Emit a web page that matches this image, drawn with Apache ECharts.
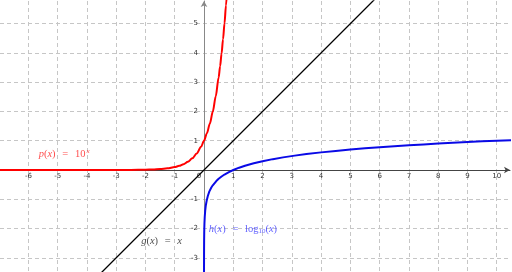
<!DOCTYPE html>
<html><head><meta charset="utf-8">
<script src="https://cdn.jsdelivr.net/npm/echarts@6/dist/echarts.min.js"></script>
<style>html,body{margin:0;padding:0;background:#fff}#c{width:512px;height:272px}</style>
</head><body><div id="c"></div>
<script>
// Sampled points of p(x) = 10^x
var pX = [-7.1, -6, -5, -4, -3, -2.5, -2, -1.75, -1.5, -1.25, -1, -0.85, -0.7, -0.55, -0.4, -0.25, -0.1, 0, 0.1, 0.2, 0.3, 0.4, 0.5, 0.55, 0.6, 0.65, 0.7, 0.75, 0.8];
var pY = [0, 0, 0.00001, 0.0001, 0.001, 0.003, 0.01, 0.018, 0.032, 0.056, 0.1, 0.141, 0.2, 0.282, 0.398, 0.562, 0.794, 1, 1.259, 1.585, 1.995, 2.512, 3.162, 3.548, 3.981, 4.467, 5.012, 5.623, 6.31];
// Sampled points of h(x) = log10(x)
var hX = [0.0003, 0.0005, 0.001, 0.002, 0.004, 0.007, 0.01, 0.015, 0.025, 0.04, 0.06, 0.09, 0.13, 0.18, 0.25, 0.3, 0.35, 0.42, 0.5, 0.6, 0.7, 0.85, 1, 1.2, 1.4, 1.7, 2, 2.35, 2.7, 3.1, 3.5, 4, 4.5, 5, 5.5, 6, 6.5, 7, 7.5, 8, 8.5, 9, 9.5, 10, 10.6];
var hY = [-3.52, -3.30, -3, -2.70, -2.40, -2.15, -2, -1.82, -1.60, -1.40, -1.22, -1.05, -0.89, -0.74, -0.60, -0.523, -0.456, -0.377, -0.301, -0.222, -0.155, -0.071, 0, 0.079, 0.146, 0.230, 0.301, 0.371, 0.431, 0.491, 0.544, 0.602, 0.653, 0.699, 0.740, 0.778, 0.813, 0.845, 0.875, 0.903, 0.929, 0.954, 0.978, 1, 1.025];
// g(x) = x
var gX = [-4, 6.5];
var gY = [-4, 6.5];
// Tick values
var xTicks = [-6, -5, -4, -3, -2, -1, 0, 1, 2, 3, 4, 5, 6, 7, 8, 9, 10];
var yTicks = [-3, -2, -1, 1, 2, 3, 4, 5];
// Visible range
var xViewMin = -6.97, xViewMax = 10.454, yViewMin = -3.485, yViewMax = 5.774;
// Annotation labels (data positions)
var labelNames = ['p', 'g', 'h'];
var labelX = [-4.78, -1.45, 1.33];
var labelY = [0.547, -2.43, -2.02];

function zip(a, b) { return a.map(function (v, i) { return [v, b[i]]; }); }

var serif = 'Liberation Serif';
var richBase = function (color) {
  return {
    i: { fontFamily: serif, fontStyle: 'italic', fontSize: 10.5, color: color },
    n: { fontFamily: serif, fontSize: 10.5, color: color },
    s: { fontFamily: serif, fontStyle: 'italic', fontSize: 7, color: color, verticalAlign: 'top', padding: [0, 0, 0, 1] },
    b: { fontFamily: serif, fontSize: 7, color: color, verticalAlign: 'bottom' }
  };
};
var labelText = {
  p: '{i|p}{n|(}{i|x}{n|)}  {n|=}  {n|10}{s|x}',
  g: '{i|g}{n|(}{i|x}{n|)}  {n|=}  {i|x}',
  h: '{i|h}{n|(}{i|x}{n|)}  {n|=}  {n|log}{b|10}{n|(}{i|x}{n|)}'
};
var labelColor = { p: '#ff2020', g: '#222222', h: '#3a3aff' };

var annData = labelNames.map(function (n, i) {
  return {
    value: [labelX[i], labelY[i]],
    label: { formatter: labelText[n], rich: richBase(labelColor[n]) }
  };
});

var chart = echarts.init(document.getElementById('c'), null, { renderer: 'canvas' });
var gridLine = { show: true, lineStyle: { color: '#c6c6c6', type: [4, 3], width: 1 } };
var hide = { show: false };

chart.setOption({
  animation: false,
  backgroundColor: '#ffffff',
  grid: { left: 0, right: 2, top: 1, bottom: 0, containLabel: false, outerBoundsMode: 'none' },
  xAxis: [
    {
      type: 'value', min: xViewMin, max: xViewMax,
      axisLine: { show: true, onZero: true, lineStyle: { color: '#444', width: 1 }, symbol: ['none', 'arrow'], symbolSize: [5, 6] },
      axisTick: { show: false, customValues: xTicks },
      splitLine: gridLine,
      axisLabel: hide
    },
    {
      type: 'value', min: xViewMin, max: xViewMax, position: 'bottom', offset: 0,
      axisLine: { show: false, onZero: false },
      axisTick: { show: false, customValues: xTicks },
      splitLine: hide,
      axisLabel: {
        customValues: xTicks, margin: 3, fontSize: 7, color: '#333', fontFamily: 'DejaVu Sans',
        formatter: function (v) { return v === 0 ? '{z|0}' : String(v); },
        rich: { z: { fontSize: 7, color: '#333', fontFamily: 'DejaVu Sans', padding: [0, 10, 0, 0] } }
      }
    }
  ],
  yAxis: [
    {
      type: 'value', min: yViewMin, max: yViewMax,
      axisLine: { show: true, onZero: true, lineStyle: { color: '#888', width: 1 }, symbol: ['none', 'arrow'], symbolSize: [5, 6] },
      axisTick: { show: false, customValues: yTicks },
      splitLine: gridLine,
      axisLabel: hide
    },
    {
      type: 'value', min: yViewMin, max: yViewMax, position: 'left', offset: 0,
      axisLine: { show: false, onZero: false },
      axisTick: { show: false, customValues: yTicks },
      splitLine: hide,
      axisLabel: { customValues: yTicks, margin: 6, fontSize: 7, color: '#333', fontFamily: 'DejaVu Sans' }
    }
  ],
  series: [
    {
      type: 'line', xAxisIndex: 0, yAxisIndex: 0, data: zip(gX, gY),
      showSymbol: false, symbol: 'none', lineStyle: { color: '#000000', width: 1.3 }, z: 3
    },
    {
      type: 'line', xAxisIndex: 0, yAxisIndex: 0, data: zip(pX, pY),
      showSymbol: false, symbol: 'none', smooth: 0.3, smoothMonotone: 'x',
      lineStyle: { color: '#ff0000', width: 2 }, z: 4
    },
    {
      type: 'line', xAxisIndex: 0, yAxisIndex: 0, data: zip(hX, hY),
      showSymbol: false, symbol: 'none', smooth: false,
      lineStyle: { color: '#0a0ae6', width: 2, join: 'round' }, z: 4
    },
    {
      type: 'scatter', xAxisIndex: 0, yAxisIndex: 0, symbolSize: 0, data: annData,
      label: { show: true, position: 'inside', align: 'center', verticalAlign: 'middle' },
      silent: true, z: 6
    }
  ]
});

// Move the label-only axes onto the zero lines (labels stay at grid edges otherwise)
var origin = chart.convertToPixel({ xAxisIndex: 0, yAxisIndex: 0 }, [0, 0]);
var gridRect = chart.getModel().getComponent('grid', 0).coordinateSystem.getRect();
chart.setOption({
  xAxis: [{}, { offset: -((gridRect.y + gridRect.height) - origin[1]) }],
  yAxis: [{}, { offset: -(origin[0] - gridRect.x) }]
});
</script>
</body></html>
